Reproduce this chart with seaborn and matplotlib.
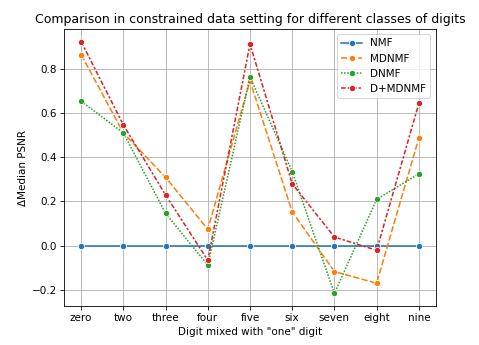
import matplotlib
matplotlib.use("Agg")
import matplotlib.pyplot as plt
import seaborn as sns
import pandas as pd

digits = ["zero", "two", "three", "four", "five", "six", "seven", "eight", "nine"]
methods = ["NMF", "MDNMF", "DNMF", "D+MDNMF"]

nmf = [0.0, 0.0, 0.0, 0.0, 0.0, 0.0, 0.0, 0.0, 0.0]
mdnmf = [0.864, 0.51, 0.309, 0.074, 0.745, 0.153, -0.117, -0.17, 0.486]
dnmf = [0.653, 0.51, 0.146, -0.088, 0.763, 0.335, -0.216, 0.209, 0.325]
dmdnmf = [0.923, 0.546, 0.229, -0.066, 0.912, 0.28, 0.039, -0.021, 0.643]

series = {"NMF": nmf, "MDNMF": mdnmf, "DNMF": dnmf, "D+MDNMF": dmdnmf}
df = pd.DataFrame(
    [(d, m, v) for m in methods for d, v in zip(digits, series[m])],
    columns=["digit", "method", "value"],
)
df["digit"] = pd.Categorical(df["digit"], categories=digits, ordered=True)

fig = plt.figure(figsize=(479 / 75, 345 / 75), dpi=75)
ax = fig.add_axes([64.3 / 479, 1 - 306 / 345, (435.7 - 64.3) / 479, (306 - 29) / 345])

sns.lineplot(
    data=df, x="digit", y="value", hue="method", style="method",
    hue_order=methods, style_order=methods,
    markers=["o"] * 4, dashes=True, ax=ax,
)

ax.grid(True)
ax.set_axisbelow(True)
ax.set_title("Comparison in constrained data setting for different classes of digits")
ax.set_xlabel('Digit mixed with "one" digit')
ax.set_ylabel("ΔMedian PSNR")
ax.legend(loc="upper right")

fig.savefig("out.png", dpi=75)
